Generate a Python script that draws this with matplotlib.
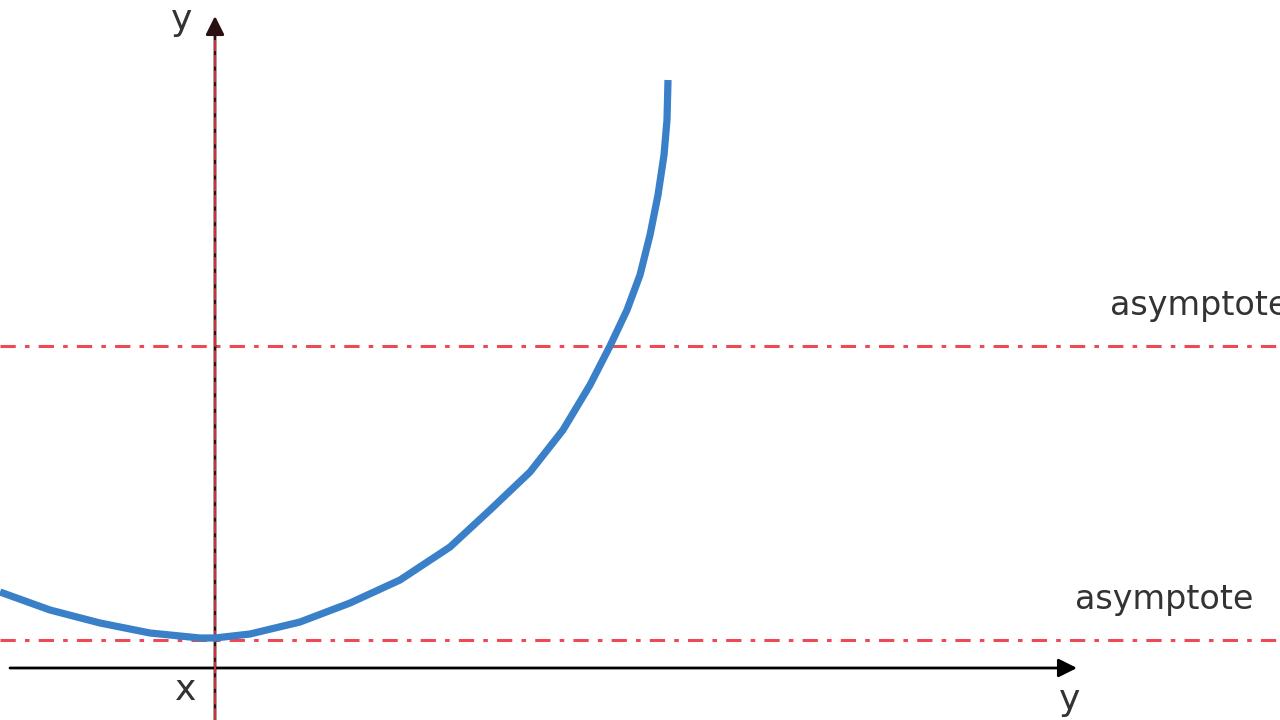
import matplotlib
matplotlib.use("Agg")
import matplotlib.pyplot as plt

# curve samples (data units; origin at axes crossing)
curve_x = [-2.15, -1.65, -1.15, -0.65, -0.15, 0.0, 0.35, 0.85, 1.35, 1.85, 2.35,
           2.75, 3.15, 3.48, 3.75, 3.95, 4.12, 4.25, 4.35, 4.43, 4.49, 4.52, 4.53]
curve_y = [0.76, 0.58, 0.45, 0.35, 0.30, 0.30, 0.34, 0.46, 0.65, 0.88, 1.21,
           1.58, 1.96, 2.38, 2.83, 3.22, 3.58, 3.93, 4.33, 4.73, 5.13, 5.48, 5.88]

asymptote_levels = [3.22, 0.28]
asymptote_labels = ["asymptote", "asymptote"]
vertical_asymptote = 0.0

fig = plt.figure(figsize=(12.8, 7.2), dpi=100)
ax = fig.add_axes([0, 0, 1, 1])
ax.set_xlim(-2.15, 10.65)
ax.set_ylim(-0.52, 6.68)
ax.axis("off")

red = "#ee4a55"
txt = "#333333"

# axes with arrows
ax.annotate("", xy=(8.62, 0), xytext=(-2.05, 0),
            arrowprops=dict(arrowstyle="-|>", lw=2, color="black",
                            mutation_scale=28, shrinkA=0, shrinkB=0))
ax.annotate("", xy=(0, 6.52), xytext=(0, -0.52),
            arrowprops=dict(arrowstyle="-|>", lw=2, color="#2a1010",
                            mutation_scale=28, shrinkA=0, shrinkB=0))

# vertical dashed asymptote over y-axis
ax.axvline(vertical_asymptote, ymin=0, ymax=0.944, color="#d0303a", lw=1.4,
           ls=(0, (6, 2)), zorder=3)

# horizontal asymptotes
for lvl in asymptote_levels:
    ax.axhline(lvl, color=red, lw=2.2, ls=(0, (5, 3, 1.5, 3)), zorder=2)

# curve
ax.plot(curve_x, curve_y, color="#3a80c9", lw=5.2, solid_capstyle="butt",
        solid_joinstyle="round", zorder=4)

# labels
ax.text(-0.33, 6.48, "y", fontsize=26, color=txt, ha="center", va="center")
ax.text(-0.29, -0.22, "x", fontsize=26, color=txt, ha="center", va="center")
ax.text(8.55, -0.32, "y", fontsize=26, color=txt, ha="center", va="center")
ax.text(8.95, 3.62, asymptote_labels[0], fontsize=24, color=txt, ha="left", va="center")
ax.text(8.6, 0.68, asymptote_labels[1], fontsize=24, color=txt, ha="left", va="center")

fig.savefig("out.png", dpi=100)
